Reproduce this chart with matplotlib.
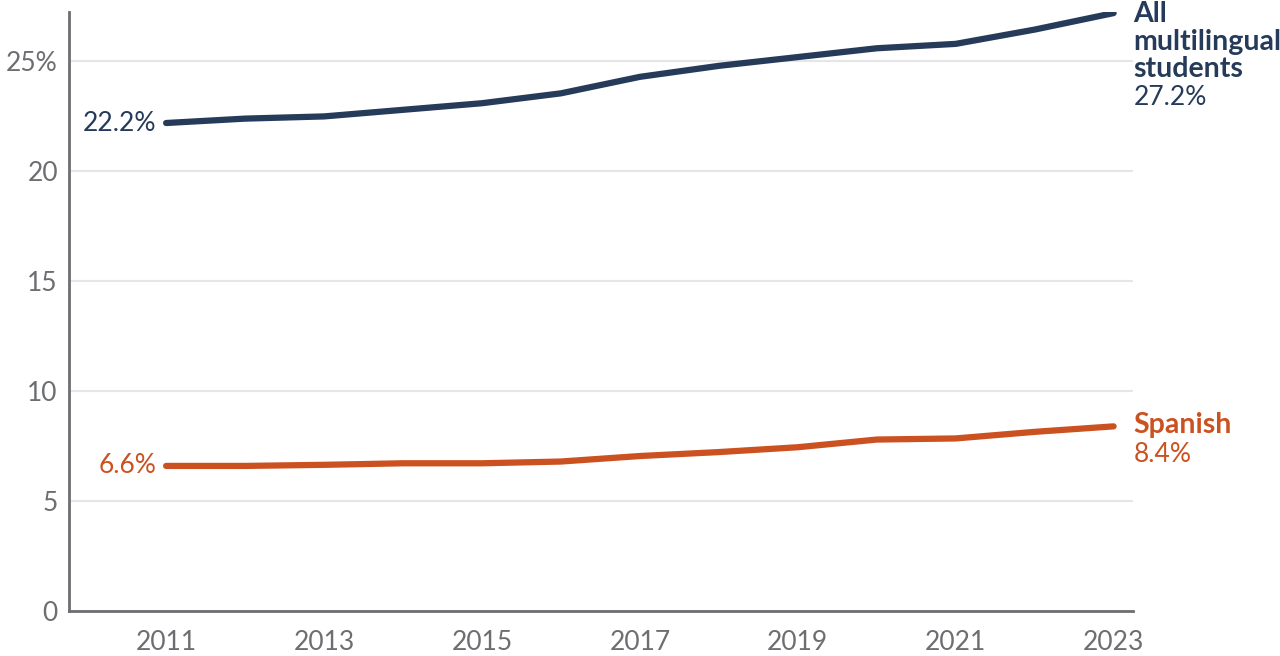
import matplotlib.pyplot as plt
import numpy as np

years = [2011, 2012, 2013, 2014, 2015, 2016, 2017, 2018, 2019, 2020, 2021, 2022, 2023]
all_ml = [22.2, 22.4, 22.5, 22.8, 23.1, 23.55, 24.3, 24.8, 25.2, 25.6, 25.8, 26.45, 27.2]
spanish = [6.6, 6.6, 6.65, 6.72, 6.72, 6.8, 7.05, 7.23, 7.45, 7.8, 7.85, 8.15, 8.4]
yticks = [0, 5, 10, 15, 20, 25]
ytick_labels = ["0", "5", "10", "15", "20", "25%"]
xticks = [2011, 2013, 2015, 2017, 2019, 2021, 2023]

navy = "#263a59"
orange = "#cc5121"
grey = "#6d6e71"

plt.rcParams['font.family'] = ['Lato', 'DejaVu Sans']

fig = plt.figure(figsize=(12.8, 6.56), dpi=100)
ax = fig.add_axes([0.0539, 0.0686, 0.8309, 0.9131])

ax.plot(years, all_ml, color=navy, lw=4.5, solid_capstyle='round', solid_joinstyle='round', zorder=3)
ax.plot(years, spanish, color=orange, lw=4.5, solid_capstyle='round', solid_joinstyle='round', zorder=3)

ax.set_xlim(2009.77, 2023.24)
ax.set_ylim(0, 27.25)
ax.set_yticks(yticks)
ax.set_yticklabels(ytick_labels)
ax.set_xticks(xticks)
ax.grid(axis='y', color='#e6e6e6', lw=1.5, zorder=0)
ax.tick_params(length=0, labelsize=19, colors=grey, pad=8)
ax.tick_params(axis='x', pad=14)
for s in ['top', 'right']:
    ax.spines[s].set_visible(False)
for s in ['left', 'bottom']:
    ax.spines[s].set_color(grey)
    ax.spines[s].set_linewidth(2)

# start labels
ax.annotate(f"{all_ml[0]:.1f}%", (years[0], all_ml[0]), xytext=(-10, 0), textcoords='offset pixels',
            ha='right', va='center', fontsize=19, color=navy)
ax.annotate(f"{spanish[0]:.1f}%", (years[0], spanish[0]), xytext=(-10, 0), textcoords='offset pixels',
            ha='right', va='center', fontsize=19, color=orange)


def end_line(text, y, dy, color, bold):
    ax.annotate(text, (1.0, y), xycoords=('axes fraction', 'data'),
                xytext=(1, dy), textcoords='offset pixels', ha='left', va='baseline',
                fontsize=20.5 if bold else 19, fontweight='bold' if bold else 'normal',
                color=color, annotation_clip=False)


# end labels
end_line("All", all_ml[-1], -9, navy, True)
end_line("multilingual", all_ml[-1], -37, navy, True)
end_line("students", all_ml[-1], -64, navy, True)
end_line(f"{all_ml[-1]:.1f}%", all_ml[-1], -92, navy, False)
end_line("Spanish", spanish[-1], -7, orange, True)
end_line(f"{spanish[-1]:.1f}%", spanish[-1], -36, orange, False)

fig.savefig("out.png", dpi=100)
